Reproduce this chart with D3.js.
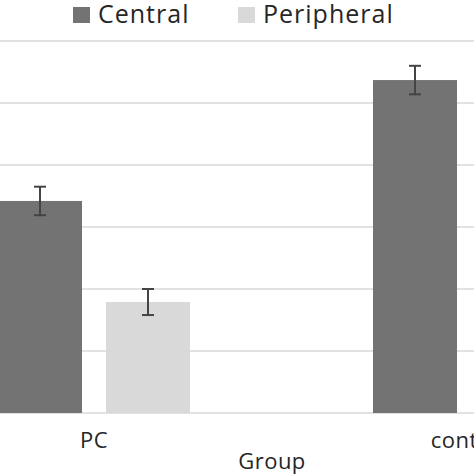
<!DOCTYPE html>
<html><head><meta charset="utf-8">
<script src="https://cdn.jsdelivr.net/npm/d3@7"></script>
<style>body{margin:0;background:#fff}</style></head>
<body><svg id="c" width="474" height="474"></svg>
<script>
const groups = ["PC","control"];
const series = ["Central","Peripheral"];
const central = [3.42, 5.37];
const peripheral = [1.79, 4.6];
const centralErr = [0.23, 0.23];
const peripheralErr = [0.21, 0.22];
const yTicks = [0,1,2,3,4,5,6];
const colors = ["#737373","#d9d9d9"];

const svg = d3.select("#c");
const y = d3.scaleLinear().domain([0,6]).range([413, 41]);
const x = d3.scaleBand().domain(groups).range([-93.5, 656.5]);
const off = {Central:-54, Peripheral:54};

svg.selectAll("line.g").data(yTicks).join("line")
  .attr("x1",0).attr("x2",474).attr("y1",d=>y(d)).attr("y2",d=>y(d))
  .attr("stroke","#d9d9d9").attr("stroke-width",1.3);

const data = [];
groups.forEach((g,i)=>{
  data.push({g,s:"Central",v:central[i],e:centralErr[i]});
  data.push({g,s:"Peripheral",v:peripheral[i],e:peripheralErr[i]});
});
const cx = d => x(d.g)+x.bandwidth()/2+off[d.s];
svg.selectAll("rect.b").data(data).join("rect")
  .attr("x",d=>cx(d)-42).attr("width",84)
  .attr("y",d=>y(d.v)).attr("height",d=>y(0)-y(d.v))
  .attr("fill",d=>colors[series.indexOf(d.s)]);
const eb = svg.append("g").attr("stroke","#444").attr("stroke-width",2);
data.forEach(d=>{
  const X=cx(d);
  eb.append("line").attr("x1",X).attr("x2",X).attr("y1",y(d.v+d.e)).attr("y2",y(d.v-d.e));
  eb.append("line").attr("x1",X-6).attr("x2",X+6).attr("y1",y(d.v+d.e)).attr("y2",y(d.v+d.e));
  eb.append("line").attr("x1",X-6).attr("x2",X+6).attr("y1",y(d.v-d.e)).attr("y2",y(d.v-d.e));
});
const font="'Open Sans','DejaVu Sans',sans-serif";
svg.selectAll("text.xl").data(groups).join("text")
  .attr("x",d=>x(d)+x.bandwidth()/2).attr("y",448).attr("text-anchor","middle")
  .attr("font-family",font).attr("font-size",22).attr("letter-spacing",0.5).attr("fill","#262626").text(d=>d);
svg.append("text").attr("x",272).attr("y",469).attr("text-anchor","middle")
  .attr("font-family",font).attr("font-size",22).attr("letter-spacing",0.5).attr("fill","#262626").text("Group");
const lx=[73,238];
series.forEach((s,i)=>{
  svg.append("rect").attr("x",lx[i]).attr("y",7).attr("width",17).attr("height",16).attr("fill",colors[i]);
  svg.append("text").attr("x",lx[i]+25).attr("y",23).attr("font-family",font).attr("font-size",25)
    .attr("letter-spacing",1).attr("fill","#262626").text(s);
});
</script></body></html>
